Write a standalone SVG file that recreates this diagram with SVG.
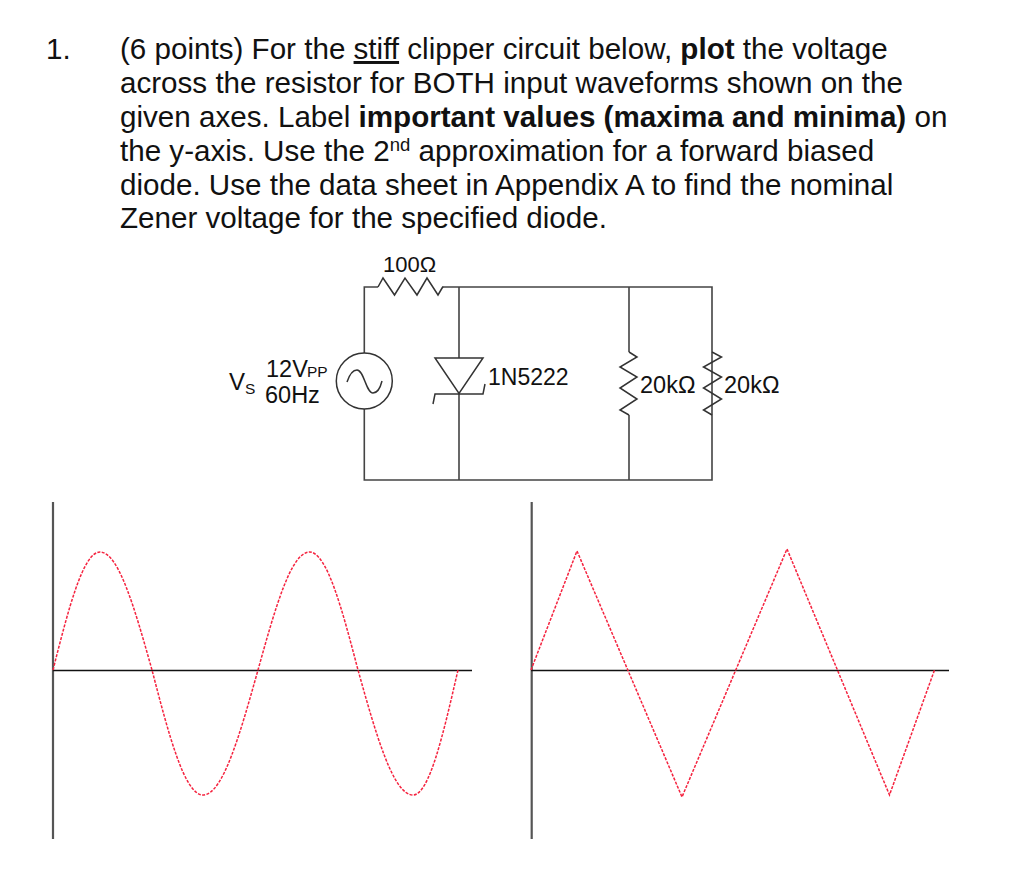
<svg xmlns="http://www.w3.org/2000/svg" width="1024" height="882" viewBox="0 0 1024 882">
<style>
text{font-family:"Liberation Sans",Arial,sans-serif;fill:#111}
.q{font-size:29.6px}
.b{font-weight:bold}
.l{font-size:23.5px}
.s{font-size:15.5px}
.w{fill:none;stroke:#444;stroke-width:1.6}
.z{fill:none;stroke:#333;stroke-width:1.5}
.ya{stroke:#555;stroke-width:2.2}
.xa{stroke:#111;stroke-width:1.6}
.r{fill:none;stroke:#f5233f;stroke-width:1.5;stroke-dasharray:3 1.4}
</style>
<rect width="1024" height="882" fill="#fff"/>
<g id="question">
<text class="q" x="46" y="59">1.</text>
<text class="q" x="120" y="59">(6 points) For the <tspan text-decoration="underline">stiff</tspan> clipper circuit below, <tspan class="b">plot</tspan> the voltage</text>
<text class="q" x="120" y="93">across the resistor for BOTH input waveforms shown on the</text>
<text class="q" x="120" y="127">given axes. Label <tspan class="b">important values (maxima and minima)</tspan> on</text>
<text class="q" x="120" y="161">the y-axis. Use the 2<tspan font-size="18.500" dy="-10">nd</tspan><tspan dy="10"> approximation for a forward biased</tspan></text>
<text class="q" x="120" y="195">diode. Use the data sheet in Appendix A to find the nominal</text>
<text class="q" x="120" y="228">Zener voltage for the specified diode.</text>
</g>
<g id="connectors">
<path class="w" d="M364.300 353V287H378M443 287H712V480H364.300V409M459 287V358M459 393V480M629 287V352M629 415V480M712 287V352M712 415V480"/>
</g>
<g id="r-series">
<path class="z" d="M378 287L383 278L394.500 295L405 278L417 295L427 278L438 295L443 286.500"/>
<text x="383" y="272" font-size="22">100Ω</text>
</g>
<g id="source">
<circle class="z" cx="364.300" cy="381" r="28"/>
<path class="z" d="M347 382C350 373 354 370 357 370C364 370 366 393 373 393C377 393 380 389 382 381"/>
<text x="229" y="390" font-size="24">V</text><text class="s" x="245" y="394">S</text>
<text class="l" x="266" y="377">12V</text><text class="s" x="307" y="377">PP</text>
<text class="l" x="265" y="403">60Hz</text>
</g>
<g id="diode">
<path class="z" d="M435 358H483L459 393.500Z"/>
<path class="z" d="M433 404L435 394H483L485 384"/>
<text x="488" y="385" font-size="23">1N5222</text>
</g>
<g id="r-load-1">
<path class="z" d="M629 352L637 357L620 367L637 377L620 388L637 399L620 410L629 415"/>
<text class="l" x="640" y="393">20kΩ</text>
</g>
<g id="r-load-2">
<path class="z" d="M712 352L721.500 357L703.500 367L721.500 377L703.500 388L721.500 399L703.500 410L712 415"/>
<text class="l" x="724" y="393">20kΩ</text>
</g>
<g id="sine-plot">
<line class="ya" x1="53" y1="502" x2="53" y2="839"/>
<line class="xa" x1="53" y1="670.500" x2="472" y2="670.500"/>
<path class="r" d="M53 670C68.300 609.600 83 552 100 552C118.800 552 135 609.600 152 670C168.600 734 184.500 795 203 795C222.900 795 240 734 258 670C274.800 609.600 290.900 552 309.500 552C327 552 342.200 609.600 358 670C375.900 734 393.100 795 413 795C429.300 795 443.300 734 458 670"/>
</g>
<g id="triangle-plot">
<line class="ya" x1="531.700" y1="502" x2="531.700" y2="839"/>
<line class="xa" x1="531" y1="670.500" x2="949" y2="670.500"/>
<path class="r" d="M531 670L577 551L682 797L787 549L889.500 795L934.500 670"/>
</g>
</svg>
